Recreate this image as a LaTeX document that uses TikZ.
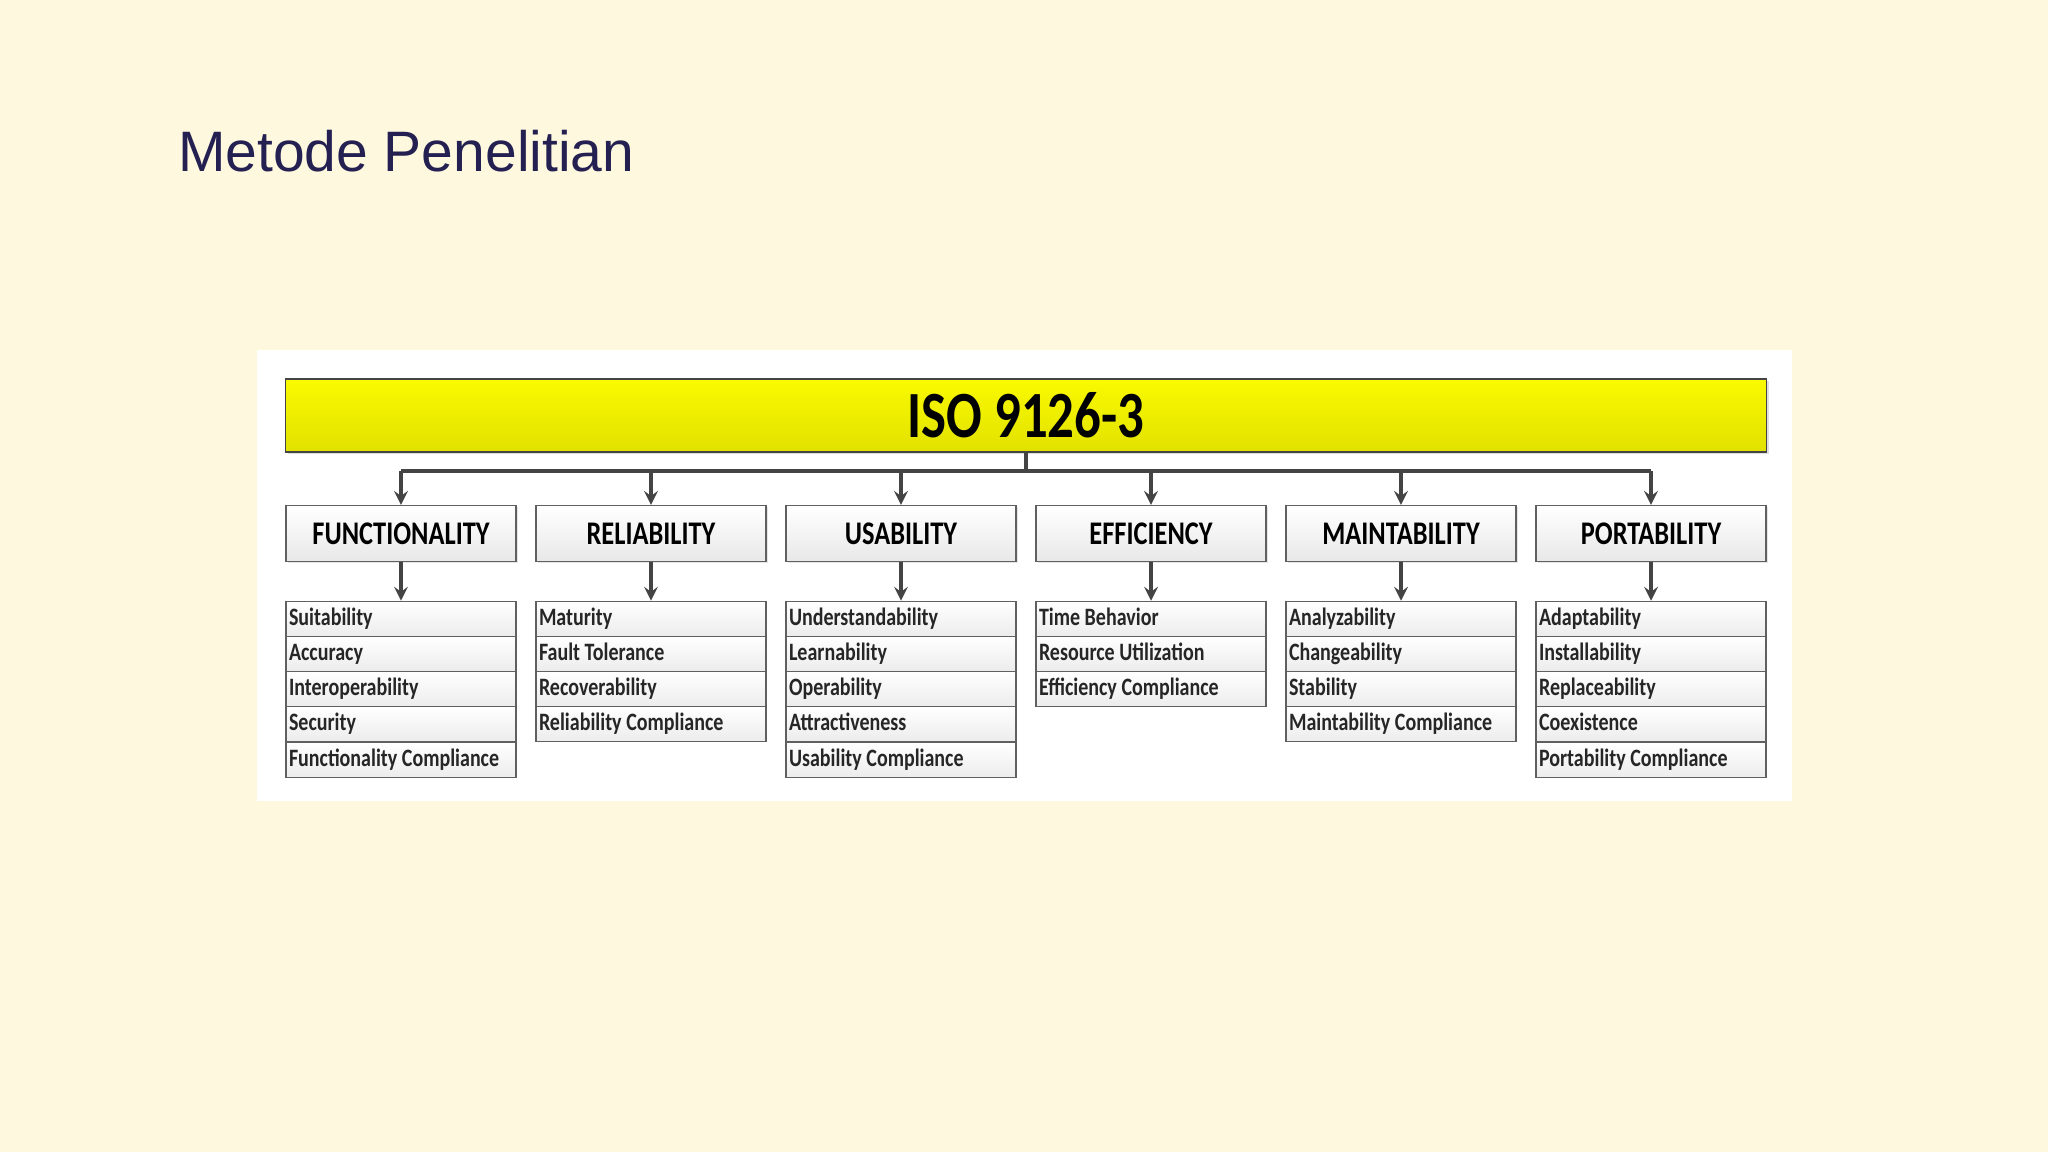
\documentclass[tikz,border=0pt]{standalone}
\usepackage{fontspec}
\setmainfont{Carlito}[FakeStretch=0.8]
\newfontfamily\slidefont{Liberation Sans}
\usetikzlibrary{arrows,shadows}
\definecolor{slidebg}{RGB}{253,248,222}
\definecolor{titleblue}{RGB}{36,33,82}
\definecolor{linegray}{RGB}{68,68,68}
\definecolor{isoyellow}{RGB}{250,250,0}

\begin{document}
\begin{tikzpicture}[x=0.5pt,y=-0.5pt]
\tikzset{
	isobar/.style={draw=linegray, line width=0.8pt, top color=isoyellow, bottom color=isoyellow!90!black, minimum width=740.5pt, minimum height=36.5pt, font=\bfseries\fontsize{33}{36}\selectfont, drop shadow={opacity=0.25, shadow xshift=1pt, shadow yshift=-1pt}},
	group/.style={draw=gray!75!black, line width=0.7pt, top color=white, bottom color=gray!18, minimum width=115pt, minimum height=28pt, font=\bfseries\fontsize{16.5}{18}\selectfont, drop shadow={opacity=0.2, shadow xshift=0.8pt, shadow yshift=-0.8pt}},
	item/.style={draw=gray!75!black, line width=0.7pt, top color=white, bottom color=gray!15, text width=112pt, align=left, inner sep=1.5pt, text height=8.6pt, text depth=2.6pt, minimum height=17.6pt, font=\bfseries\fontsize{12.5}{14}\selectfont, execute at begin node={\spaceskip=2.3pt plus 0.5pt minus 0.3pt\relax}, text=black!85},
	link/.style={line width=2pt, linegray, -stealth},
}
\fill[slidebg] (0,0) rectangle (2048,1152);
\useasboundingbox (0,0) rectangle (2048,1152);
\fill[white] (257,350) rectangle (1792,801);

\node[anchor=base west, text=titleblue, font=\slidefont\fontsize{28.5}{34}\selectfont] (title) at (171,171) {Metode Penelitian};

\node[isobar] (iso) at (1026,415.5) {ISO 9126-3};
\coordinate (hub) at (1026,471);

% characteristics
\node[group] (fun) at (401,533.5) {FUNCTIONALITY};
\node[group] (rel) at (651,533.5) {RELIABILITY};
\node[group] (usa) at (901,533.5) {USABILITY};
\node[group] (eff) at (1151,533.5) {EFFICIENCY};
\node[group] (mai) at (1401,533.5) {MAINTABILITY};
\node[group] (por) at (1651,533.5) {PORTABILITY};

\draw[line width=2pt, linegray] (iso.south) -- (hub);
\draw[line width=2pt, linegray] (fun.north |- hub) -- (por.north |- hub);
\draw[link] (fun.north |- hub) -- (fun.north);
\draw[link] (rel.north |- hub) -- (rel.north);
\draw[link] (usa.north |- hub) -- (usa.north);
\draw[link] (eff.north |- hub) -- (eff.north);
\draw[link] (mai.north |- hub) -- (mai.north);
\draw[link] (por.north |- hub) -- (por.north);

% sub-characteristics
\node[item] (fun1) at (401,619) {Suitability};
\node[item] (fun2) at (401,654) {Accuracy};
\node[item] (fun3) at (401,689) {Interoperability};
\node[item] (fun4) at (401,724) {Security};
\node[item] (fun5) at (401,760) {Functionality Compliance};

\node[item] (rel1) at (651,619) {Maturity};
\node[item] (rel2) at (651,654) {Fault Tolerance};
\node[item] (rel3) at (651,689) {Recoverability};
\node[item] (rel4) at (651,724) {Reliability Compliance};

\node[item] (usa1) at (901,619) {Understandability};
\node[item] (usa2) at (901,654) {Learnability};
\node[item] (usa3) at (901,689) {Operability};
\node[item] (usa4) at (901,724) {Attractiveness};
\node[item] (usa5) at (901,760) {Usability Compliance};

\node[item] (eff1) at (1151,619) {Time Behavior};
\node[item] (eff2) at (1151,654) {Resource Utilization};
\node[item] (eff3) at (1151,689) {Efficiency Compliance};

\node[item] (mai1) at (1401,619) {Analyzability};
\node[item] (mai2) at (1401,654) {Changeability};
\node[item] (mai3) at (1401,689) {Stability};
\node[item] (mai4) at (1401,724) {Maintability Compliance};

\node[item] (por1) at (1651,619) {Adaptability};
\node[item] (por2) at (1651,654) {Installability};
\node[item] (por3) at (1651,689) {Replaceability};
\node[item] (por4) at (1651,724) {Coexistence};
\node[item] (por5) at (1651,760) {Portability Compliance};

\draw[link] (fun) -- (fun1);
\draw[link] (rel) -- (rel1);
\draw[link] (usa) -- (usa1);
\draw[link] (eff) -- (eff1);
\draw[link] (mai) -- (mai1);
\draw[link] (por) -- (por1);
\end{tikzpicture}
\end{document}
